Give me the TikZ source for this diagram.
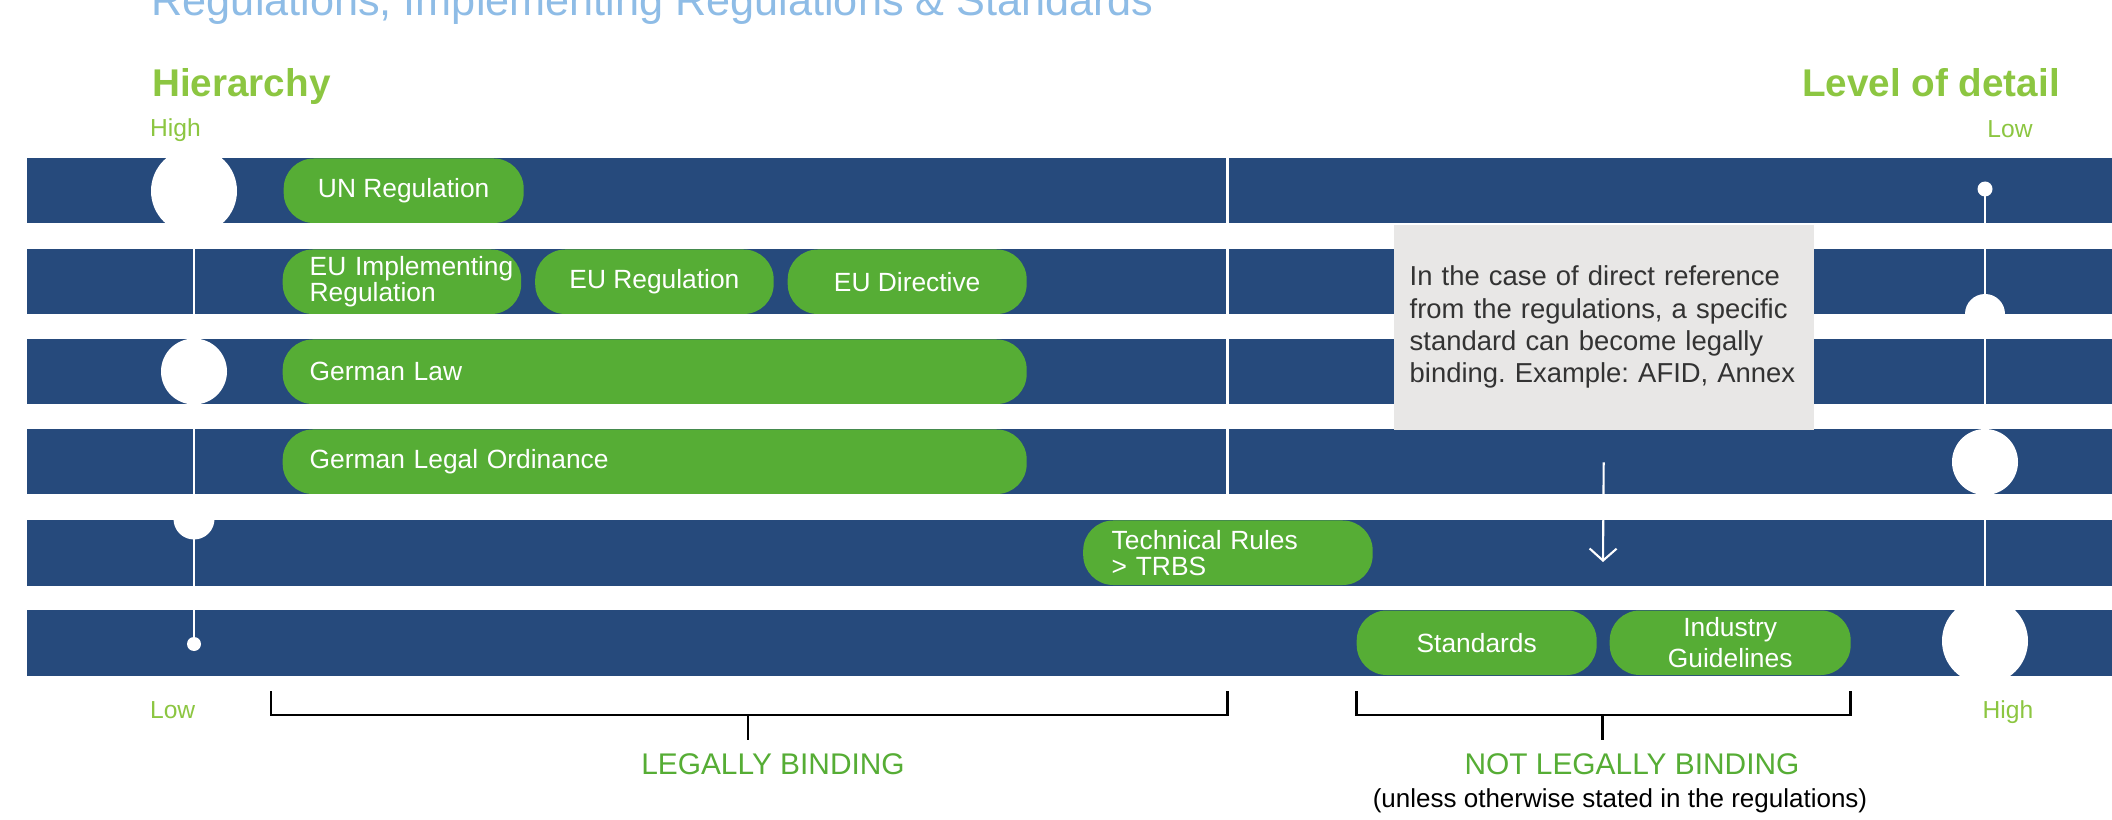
\documentclass[tikz,border=0pt]{standalone}
\usepackage{fontspec}
\setmainfont{Liberation Sans}
\usetikzlibrary{arrows.meta}
\definecolor{bandblue}{RGB}{38,74,124}
\definecolor{pillgreen}{RGB}{86,173,53}
\definecolor{headgreen}{RGB}{140,198,65}
\definecolor{titleblue}{RGB}{142,188,230}
\definecolor{notegray}{RGB}{232,231,230}
\definecolor{notetext}{RGB}{51,51,51}
\hyphenpenalty=10000
\exhyphenpenalty=10000
\tikzset{
    pill/.style={fill=pillgreen, rounded corners=0.3cm, text=white, minimum height=0.645cm,
        inner sep=0pt, font=\fontsize{7.5}{7.2}\selectfont},
    knob/.style={fill=white},
    rail/.style={white, line width=0.6pt},
    bline/.style={black, line width=0.85pt},
    small/.style={anchor=base west, inner sep=0pt, text=headgreen, font=\fontsize{7}{8}\selectfont},
    heading/.style={inner sep=0pt, text=headgreen, font=\bfseries\fontsize{11}{13}\selectfont},
}

\begin{document}
\begin{tikzpicture}
    \fill[white] (0, 0) rectangle (21.12, -8.2);
    \useasboundingbox (0, 0) rectangle (21.12, -8.2);
    % headings
    \node[anchor=base west, inner sep=0pt, text=titleblue, font=\fontsize{12.3}{14}\selectfont] (title) at (1.51, -0.16) {Regulations, Implementing Regulations \& Standards};
    \node[heading, anchor=base west] (hier) at (1.515, -0.97) {Hierarchy};
    \node[heading, anchor=base east] (detail) at (20.605, -0.97) {Level of detail};
    \node[small] (hierhigh) at (1.494, -1.37) {High};
    \node[small] (detaillow) at (19.867, -1.38) {Low};
    \node[small] (hierlow) at (1.494, -7.18) {Low};
    \node[small] (detailhigh) at (19.82, -7.18) {High};
    % bands
    \foreach \y in {1.58, 2.49, 3.39, 4.29, 5.20, 6.10}
        \fill[bandblue] (0.27, -\y) rectangle (21.12, {-\y-0.655});
    \draw[white, line width=0.03cm] (12.27, -1.58) -- (12.27, -4.945);
    % hierarchy scale
    \draw[rail] (1.94, -1.91) -- (1.94, -6.44);
    \fill[knob] (1.94, -1.91) circle (0.43);
    \fill[knob] (1.94, -3.715) circle (0.33);
    \fill[knob] (1.94, -5.19) circle (0.205);
    \fill[knob] (1.94, -6.44) circle (0.07);
    % detail scale
    \draw[rail] (19.85, -1.89) -- (19.85, -6.41);
    \fill[knob] (19.85, -1.89) circle (0.075);
    \fill[knob] (19.85, -3.14) circle (0.2);
    \fill[knob] (19.85, -4.62) circle (0.33);
    \fill[knob] (19.85, -6.41) circle (0.43);
    % regulations
    \node[pill, anchor=west, minimum width=2.40cm] (un) at (2.83, -1.9075) {UN Regulation};
    \node[pill, anchor=west, minimum width=2.385cm, inner xsep=0.27cm, text width=1.845cm, align=left] (euimpl) at (2.82, -2.8175) {\mbox{EU Implementing}\\Regulation};
    \node[pill, anchor=west, minimum width=2.385cm] (eureg) at (5.345, -2.8175) {EU Regulation};
    \node[pill, anchor=west, minimum width=2.39cm] (eudir) at (7.87, -2.8175) {EU Directive};
    \node[pill, anchor=west, minimum width=7.44cm, inner xsep=0.27cm, text width=6.9cm, align=left] (delaw) at (2.82, -3.7175) {German Law};
    \node[pill, anchor=west, minimum width=7.44cm, inner xsep=0.27cm, text width=6.9cm, align=left] (deord) at (2.82, -4.6175) {German Legal Ordinance};
    \node[pill, anchor=west, minimum width=2.895cm, inner xsep=0.285cm, text width=2.325cm, align=left, font=\fontsize{7.5}{7.4}\selectfont] (trbs) at (10.825, -5.5275) {Technical Rules\\> TRBS};
    \node[pill, anchor=west, minimum width=2.40cm] (std) at (13.56, -6.4275) {Standards};
    \node[pill, anchor=west, minimum width=2.41cm, align=center, font=\fontsize{7.5}{9}\selectfont] (guide) at (16.09, -6.4275) {Industry\\Guidelines};
    % note
    \node[fill=notegray, text=notetext, anchor=north west, minimum width=4.20cm, minimum height=2.05cm,
        inner xsep=0.16cm, text width=3.88cm, align=left, font=\frenchspacing\fontsize{7.8}{9.2}\selectfont] (note) at (13.93, -2.24)
        {In the case of direct reference\\from the regulations, a specific\\standard can become legally\\binding. Example: AFID, Annex};
    \coordinate (notetip) at (16.03, -5.62);
    \draw[white, line width=0.6pt, -{Straight Barb[length=0.12cm, width=0.27cm]}] ([yshift=-0.32cm]note.south) -- (notetip);
    % brackets
    \draw[bline] (2.71, -6.91) -- (2.71, -7.15) -- (12.27, -7.15) -- (12.27, -6.91);
    \draw[bline] (7.48, -7.15) -- (7.48, -7.40);
    \draw[bline] (13.56, -6.91) -- (13.56, -7.15) -- (18.505, -7.15) -- (18.505, -6.91);
    \draw[bline] (16.02, -7.15) -- (16.02, -7.40);
    \node[text=pillgreen, inner sep=0pt, font=\fontsize{8.5}{10}\selectfont] (legal) at (7.73, -7.64) {LEGALLY BINDING};
    \node[text=pillgreen, inner sep=0pt, font=\fontsize{8.5}{10}\selectfont] (notlegal) at (16.32, -7.64) {NOT LEGALLY BINDING};
    \node[anchor=base, inner sep=0pt, font=\fontsize{7.4}{9}\selectfont] (unless) at (16.20, -8.07) {(unless otherwise stated in the regulations)};
\end{tikzpicture}
\end{document}
